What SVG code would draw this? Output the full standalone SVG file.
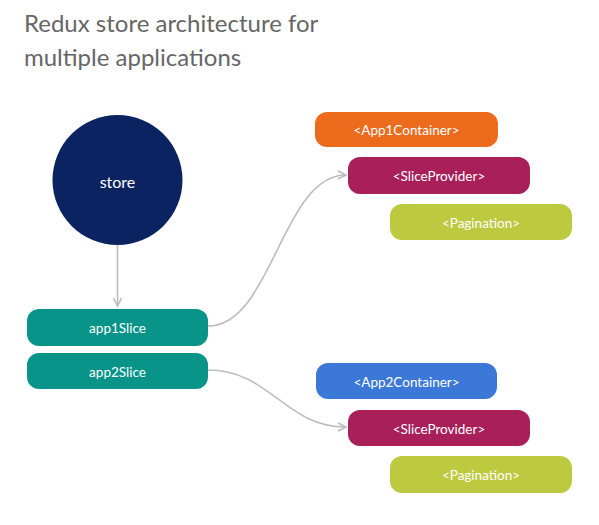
<svg xmlns="http://www.w3.org/2000/svg" width="599" height="525" viewBox="0 0 599 525">
<style>
.title{font-family:Lato,"Liberation Sans",sans-serif;font-size:24px;fill:#666666}
.lbl{font-family:Lato,"Liberation Sans",sans-serif;font-size:13.5px;fill:#ffffff;text-anchor:middle;dominant-baseline:central}
.edge{fill:none;stroke:#bdbdbd;stroke-width:1.6}
</style>
<defs>
<marker id="arr" viewBox="0 0 10 10" refX="9" refY="5" markerWidth="10" markerHeight="10" markerUnits="userSpaceOnUse" orient="auto">
<path d="M1,1 L9,5 L1,9" fill="none" stroke="#bdbdbd" stroke-width="1.6"/>
</marker>
</defs>
<rect width="599" height="525" fill="#ffffff"/>
<text class="title" x="24" y="32">Redux store architecture for</text>
<text class="title" x="24" y="66">multiple applications</text>
<g id="connectors">
<path class="edge" d="M117.5,245 L117.5,306" marker-end="url(#arr)"/>
<path class="edge" d="M208,326 C272,326 282,175 346,175" marker-end="url(#arr)"/>
<path class="edge" d="M208,370 C270,370 285,427 346,427" marker-end="url(#arr)"/>
</g>
<g id="store">
<circle cx="117.5" cy="180" r="65" fill="#0b2360"/>
<text class="lbl" x="117.5" y="181" style="font-size:16px">store</text>
</g>
<g id="app1Slice">
<rect x="27" y="309" width="181" height="37" rx="12" fill="#089488"/>
<text class="lbl" x="117.5" y="328">app1Slice</text>
</g>
<g id="app2Slice">
<rect x="27" y="353" width="181" height="36" rx="12" fill="#089488"/>
<text class="lbl" x="117.5" y="371.5">app2Slice</text>
</g>
<g id="app1Container">
<rect x="315" y="112" width="183" height="35" rx="12" fill="#ec6b1d"/>
<text class="lbl" x="406.5" y="130">&lt;App1Container&gt;</text>
</g>
<g id="sliceProvider1">
<rect x="348" y="157" width="182" height="37" rx="12" fill="#a81f5a"/>
<text class="lbl" x="439" y="176">&lt;SliceProvider&gt;</text>
</g>
<g id="pagination1">
<rect x="390" y="204" width="182" height="36" rx="12" fill="#bdc93f"/>
<text class="lbl" x="481" y="222.5">&lt;Pagination&gt;</text>
</g>
<g id="app2Container">
<rect x="316" y="363" width="181" height="36" rx="12" fill="#3b78d8"/>
<text class="lbl" x="406.5" y="381.5">&lt;App2Container&gt;</text>
</g>
<g id="sliceProvider2">
<rect x="348" y="410" width="182" height="36" rx="12" fill="#a81f5a"/>
<text class="lbl" x="439" y="428.5">&lt;SliceProvider&gt;</text>
</g>
<g id="pagination2">
<rect x="390" y="456" width="182" height="37" rx="12" fill="#bdc93f"/>
<text class="lbl" x="481" y="475">&lt;Pagination&gt;</text>
</g>
</svg>
